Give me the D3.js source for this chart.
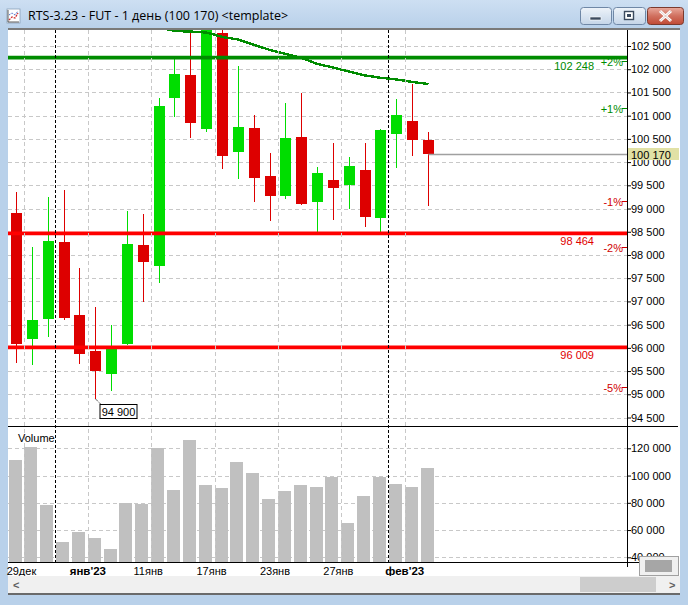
<!DOCTYPE html>
<html><head><meta charset="utf-8">
<script src="https://cdn.jsdelivr.net/npm/d3@7"></script>
<style>
html,body{margin:0;padding:0;overflow:hidden;background:#b9d1ea}
svg{display:block}
text{font-family:"Liberation Sans",Arial,sans-serif}
</style>
</head><body>
<svg id="c" width="688" height="605"></svg>
<script>
// ---------- DATA ----------
const dates = ["2022-12-28","2022-12-29","2022-12-30","2023-01-03","2023-01-04","2023-01-05","2023-01-06",
  "2023-01-09","2023-01-10","2023-01-11","2023-01-12","2023-01-13","2023-01-16","2023-01-17","2023-01-18",
  "2023-01-19","2023-01-20","2023-01-23","2023-01-24","2023-01-25","2023-01-26","2023-01-27","2023-01-30",
  "2023-01-31","2023-02-01","2023-02-02","2023-02-03"];
const opens  = [98900,96180,96630,98280,96710,95930,95440,96090,98220,97770,101390,101880,100720,102780,100220,100730,99700,99280,100540,99150,99620,99510,99830,98800,100610,100890,100480];
const highs  = [99360,98170,99250,99400,97720,96880,96490,98950,98880,101380,102240,102900,103050,102850,102070,101010,100200,101270,101490,99890,100410,100110,100410,100710,101360,101680,100650];
const lows   = [95680,95620,96240,96610,95660,94900,95060,96060,96990,97400,100980,100520,100650,99860,99640,99130,98740,99210,99080,98500,98760,98980,98610,98420,99880,100140,99060];
const closes = [96090,96600,98300,96650,95870,95510,95980,98240,97850,101210,101900,100850,102950,100140,100760,99660,99260,100520,99100,99770,99450,99920,98820,100690,101010,100480,100170];
const volumes = [111400,121000,78400,51200,58600,54200,46100,80100,79100,120200,89400,126100,93100,91000,110000,101900,82800,88700,93100,91600,98900,65200,85000,98900,93800,91600,105500];
const maValues = [null,null,null,null,null,null,null,null,null,102900,102823,102810,102790,102694,102640,102522,102414,102328,102242,102112,102037,101951,101865,101815,101779,101725,101682];
const priceTicks = [94500,95000,95500,96000,96500,97000,97500,98000,98500,99000,99500,100000,100500,101000,101500,102000,102500];
const volumeTicks = [40000,60000,80000,100000,120000];
const levelValues = [102248, 98464, 96009];
const percentLevels = [2, 1, -1, -2, -5];
const lastPrice = 100170;
const minLabelValue = 94900;
const xTickDates = ["2022-12-29","2023-01-05","2023-01-11","2023-01-17","2023-01-23","2023-01-27","2023-02-02"];
const xTickLabels = ["29дек","янв'23","11янв","17янв","23янв","27янв","фев'23"];
const xTickIsMonth = [false,true,false,false,false,false,true];
const monthStarts = ["2023-01-03","2023-02-01"];
const titleText = "RTS-3.23 - FUT - 1 день (100 170) <template>";

// ---------- LAYOUT ----------
const L = 8, AX = 627, PT = 30, PB = 426, VB = 562, RW = 680;
const step = 15.846;
const fmt = d3.formatLocale({decimal:",", thousands:" ", grouping:[3], currency:["",""]}).format(",d");

const x = d3.scaleBand().domain(dates).range([16.5 - step/2, 16.5 - step/2 + step*dates.length]).paddingInner(0).paddingOuter(0);
const bw = x.bandwidth();
const cx = d => x(d) + bw/2;
const y = d3.scaleLinear().domain([94500, 102500]).range([417.5, 46]);
const yv = d3.scaleLinear().domain([40000, 120000]).range([557.3, 448.3]);

const svg = d3.select("#c");
const defs = svg.append("defs");

// window frame
svg.append("rect").attr("width",688).attr("height",605).attr("fill","#b9d1ea");
const tg = defs.append("linearGradient").attr("id","tb").attr("x1",0).attr("y1",0).attr("x2",0).attr("y2",1);
tg.append("stop").attr("offset",0).attr("stop-color","#cddff2");
tg.append("stop").attr("offset",1).attr("stop-color","#b9d1ea");
svg.append("rect").attr("width",688).attr("height",28).attr("fill","url(#tb)");

// title icon
const ic = svg.append("g").attr("transform","translate(7,9)");
ic.append("rect").attr("width",13).attr("height",14).attr("fill","#fff").attr("stroke","#8aa0b8").attr("stroke-width",0.8);
ic.append("path").attr("d","M2,11 L5,8 L8,9 L11,4").attr("stroke","#d03030").attr("stroke-width",1.3).attr("fill","none").attr("stroke-dasharray","2,1");
ic.append("path").attr("d","M2,6 L5,4 L8,6 L11,2").attr("stroke","#2050c0").attr("stroke-width",1).attr("fill","none").attr("stroke-dasharray","1,1");
ic.append("path").attr("d","M1,1 L1,13 L12,13").attr("stroke","#333").attr("stroke-width",0.8).attr("fill","none");

svg.append("text").attr("x",28).attr("y",20).attr("font-size",12.5).attr("fill","#000")
  .style("font-family","'Open Sans','Noto Sans',sans-serif").text(titleText);

// title buttons
const bg = defs.append("linearGradient").attr("id","bt").attr("x1",0).attr("y1",0).attr("x2",0).attr("y2",1);
bg.append("stop").attr("offset",0).attr("stop-color","#eef3f9");
bg.append("stop").attr("offset",0.5).attr("stop-color","#d9e4f1");
bg.append("stop").attr("offset",1).attr("stop-color","#c5d5e8");
const cg = defs.append("linearGradient").attr("id","cl").attr("x1",0).attr("y1",0).attr("x2",0).attr("y2",1);
cg.append("stop").attr("offset",0).attr("stop-color","#e9a99c");
cg.append("stop").attr("offset",0.5).attr("stop-color","#d0705f");
cg.append("stop").attr("offset",1).attr("stop-color","#c04a35");
[[580,31],[613,32]].forEach(([bx,w])=>{
  svg.append("rect").attr("x",bx+0.5).attr("y",7.5).attr("width",w).attr("height",17).attr("rx",3)
    .attr("fill","url(#bt)").attr("stroke","#6f87a6");
});
svg.append("rect").attr("x",590).attr("y",17).attr("width",11).attr("height",3).attr("fill","#3b4a5e").attr("stroke","#fff").attr("stroke-width",0.6);
svg.append("rect").attr("x",624.5).attr("y",11.5).attr("width",9).attr("height",8).attr("fill","#fff").attr("stroke","#3b4a5e").attr("stroke-width",1.4);
svg.append("rect").attr("x",627).attr("y",14).attr("width",4).attr("height",3).attr("fill","#3b4a5e");
svg.append("rect").attr("x",647.5).attr("y",7.5).attr("width",36).attr("height",17).attr("rx",3)
  .attr("fill","url(#cl)").attr("stroke","#7b3a2e");
svg.append("path").attr("d","M660,11 L671,21 M671,11 L660,21").attr("stroke","#fff").attr("stroke-width",3);
svg.append("path").attr("d","M660,11 L671,21 M671,11 L660,21").attr("stroke","#6a2a20").attr("stroke-width",0.6).attr("fill","none").attr("opacity",0.4);

// client area
svg.append("rect").attr("x",L).attr("y",28).attr("width",RW-L).attr("height",567).attr("fill","#fff");
svg.append("rect").attr("x",L).attr("y",28).attr("width",RW-L).attr("height",2).attr("fill","#7a7a7a");

// clip paths
defs.append("clipPath").attr("id","pc").append("rect").attr("x",L).attr("y",PT).attr("width",AX-L).attr("height",PB-PT);
defs.append("clipPath").attr("id","vc").append("rect").attr("x",L).attr("y",PB).attr("width",AX-L).attr("height",VB-PB);

const gridColor = "#c8c8c8";
// horizontal grid price
const pg = svg.append("g").attr("clip-path","url(#pc)");
pg.selectAll("line.hg").data(priceTicks).join("line")
  .attr("x1",L).attr("x2",AX).attr("y1",d=>Math.round(y(d))+0.5).attr("y2",d=>Math.round(y(d))+0.5)
  .attr("stroke",gridColor).attr("stroke-dasharray","4,3");
const vg = svg.append("g").attr("clip-path","url(#vc)");
vg.selectAll("line.hg").data(volumeTicks).join("line")
  .attr("x1",L).attr("x2",AX).attr("y1",d=>Math.round(yv(d))+0.5).attr("y2",d=>Math.round(yv(d))+0.5)
  .attr("stroke",gridColor).attr("stroke-dasharray","4,3");

// vertical grid + month separators (both panels)
const vAll = svg.append("g");
vAll.selectAll("line.vg").data(xTickDates).join("line")
  .attr("x1",d=>Math.round(x(d))+0.5).attr("x2",d=>Math.round(x(d))+0.5).attr("y1",PT).attr("y2",VB)
  .attr("stroke",gridColor).attr("stroke-dasharray","4,3");

// volume bars
vg.selectAll("rect.vb").data(dates).join("rect")
  .attr("x",d=>Math.round(x(d))).attr("width",13)
  .attr("y",(d,i)=>Math.round(yv(volumes[i]))).attr("height",(d,i)=>VB-Math.round(yv(volumes[i])))
  .attr("fill","#c0c0c0");

// candles
const green = "#00dd00", red = "#dd0000";
const cg2 = pg.append("g");
dates.forEach((d,i)=>{
  const up = closes[i] >= opens[i];
  const col = up ? green : red;
  const c = cx(d);
  const wx = Math.floor(c)+0.5;
  cg2.append("line").attr("x1",wx).attr("x2",wx).attr("y1",Math.round(y(highs[i]))).attr("y2",Math.round(y(lows[i])))
    .attr("stroke",col).attr("stroke-width",1);
  const top = Math.round(y(Math.max(opens[i],closes[i]))), bot = Math.round(y(Math.min(opens[i],closes[i])));
  cg2.append("rect").attr("x",Math.round(c-5.5)).attr("width",11).attr("y",top).attr("height",Math.max(1,bot-top)).attr("fill",col);
});

// month separators
vAll.selectAll("line.ms").data(monthStarts).join("line")
  .attr("x1",d=>Math.round(x(d))-0.5).attr("x2",d=>Math.round(x(d))-0.5).attr("y1",PT).attr("y2",VB)
  .attr("stroke","#000").attr("stroke-dasharray","3,2");

// MA line
const maLine = d3.line().defined(v=>v!=null).x((v,i)=>cx(dates[i])).y(v=>y(v));
pg.append("path").datum(maValues).attr("d",maLine).attr("fill","none").attr("stroke","#008c00")
  .attr("stroke-width",2.4).attr("shape-rendering","crispEdges");

// level lines
const lvlColor = v => v > lastPrice ? "#008c00" : "#ff0000";
pg.selectAll("line.lv").data(levelValues).join("line")
  .attr("x1",L).attr("x2",AX).attr("y1",d=>y(d)).attr("y2",d=>y(d))
  .attr("stroke",lvlColor).attr("stroke-width",3.8);
svg.selectAll("text.lvt").data(levelValues).join("text")
  .attr("x",594).attr("y",d=>y(d)+12).attr("text-anchor","end").attr("font-size",11)
  .attr("fill",d=> d > lastPrice ? "#008c00" : "#e00000").text(d=>fmt(d));

// last price line
const lastX = cx(dates[dates.length-1]);
svg.append("line").attr("x1",lastX).attr("x2",AX).attr("y1",Math.round(y(lastPrice))+0.5).attr("y2",Math.round(y(lastPrice))+0.5)
  .attr("stroke","#a0a0a0").attr("stroke-width",1.3);

// min label callout
const iMin = lows.indexOf(minLabelValue);
const mx = Math.floor(cx(dates[iMin]))+0.5, my = y(minLabelValue);
svg.append("line").attr("x1",mx).attr("y1",my).attr("x2",mx+5).attr("y2",my+5).attr("stroke","#000").attr("stroke-dasharray","1,1");
svg.append("rect").attr("x",mx+4.5).attr("y",Math.round(my)+5.5).attr("width",37).attr("height",14).attr("fill","#fff").attr("stroke","#000");
svg.append("text").attr("x",mx+23).attr("y",Math.round(my)+16.5).attr("text-anchor","middle").attr("font-size",11).text(fmt(minLabelValue));

// panel borders
svg.append("line").attr("x1",L).attr("x2",678).attr("y1",PB+0.5).attr("y2",PB+0.5).attr("stroke","#000");
svg.append("line").attr("x1",L).attr("x2",639).attr("y1",VB+0.5).attr("y2",VB+0.5).attr("stroke","#000");
svg.append("line").attr("x1",AX+0.5).attr("x2",AX+0.5).attr("y1",PT).attr("y2",VB+5).attr("stroke","#000");

// price axis
const pa = svg.append("g").attr("transform",`translate(${AX},0)`)
  .call(d3.axisRight(y).tickValues(priceTicks).tickSize(4).tickPadding(0).tickFormat(fmt));
pa.select(".domain").remove();
pa.selectAll("text").attr("font-size",11).attr("font-family","'Liberation Sans',Arial,sans-serif").attr("fill","#000");
pa.selectAll("line").attr("stroke","#000");

// last price label
svg.append("rect").attr("x",AX+1).attr("y",Math.round(y(lastPrice))-6).attr("width",RW-AX-2).attr("height",12).attr("fill","#e1e1a5");
svg.append("text").attr("x",AX+4).attr("y",Math.round(y(lastPrice))+4.5).attr("font-size",11).text(fmt(lastPrice));

// volume axis
const vclip = defs.append("clipPath").attr("id","vac").append("rect").attr("x",AX).attr("y",PB).attr("width",60).attr("height",VB-PB);
const va = svg.append("g").attr("clip-path","url(#vac)").append("g").attr("transform",`translate(${AX},0)`)
  .call(d3.axisRight(yv).tickValues(volumeTicks).tickSize(4).tickPadding(0).tickFormat(fmt));
va.select(".domain").remove();
va.selectAll("text").attr("font-size",11).attr("font-family","'Liberation Sans',Arial,sans-serif").attr("fill","#000");
va.selectAll("line").attr("stroke","#000");

// percent marks
const pctColor = p => p > 0 ? "#008c00" : "#d00000";
const pm = svg.selectAll("g.pm").data(percentLevels).join("g")
  .attr("transform",p=>`translate(0,${Math.round(y(lastPrice*(1+p/100)))+0.5})`);
pm.append("line").attr("x1",AX-5).attr("x2",AX).attr("stroke",pctColor);
pm.append("text").attr("x",AX-4).attr("y",4).attr("text-anchor","end").attr("font-size",11).attr("fill",pctColor)
  .text(p=>(p>0?"+":"")+p+"%");

// Volume label
svg.append("text").attr("x",18).attr("y",442).attr("font-size",11).text("Volume");

// x labels
svg.selectAll("text.xl").data(xTickDates).join("text")
  .attr("x",(d,i)=>x(d) + (xTickIsMonth[i] ? 0 : -3)).attr("y",575).attr("text-anchor","middle")
  .attr("font-size",(d,i)=>xTickIsMonth[i]?11.5:11).attr("font-weight",(d,i)=>xTickIsMonth[i]?"bold":"normal")
  .text((d,i)=>xTickLabels[i]);

// bottom-right button
svg.append("rect").attr("x",639.5).attr("y",556.5).attr("width",39).attr("height",19).attr("fill","#f0f0f0").attr("stroke","#a0a0a0");
svg.append("rect").attr("x",645).attr("y",560).attr("width",27).attr("height",12).attr("fill","#a6a6a6");

// scrollbar
svg.append("rect").attr("x",L).attr("y",576).attr("width",RW-L).attr("height",17).attr("fill","#f0f0f0");
svg.append("rect").attr("x",580).attr("y",577).attr("width",76).attr("height",15).attr("fill","#cdcdcd");
svg.append("text").attr("x",13).attr("y",589).attr("font-size",11).attr("font-weight","bold").attr("fill","#606060").text("<");
svg.append("text").attr("x",669).attr("y",589).attr("font-size",11).attr("font-weight","bold").attr("fill","#606060").text(">");
svg.append("rect").attr("x",L).attr("y",593).attr("width",RW-L).attr("height",2).attr("fill","#6a6a6a");
</script>
</body></html>
